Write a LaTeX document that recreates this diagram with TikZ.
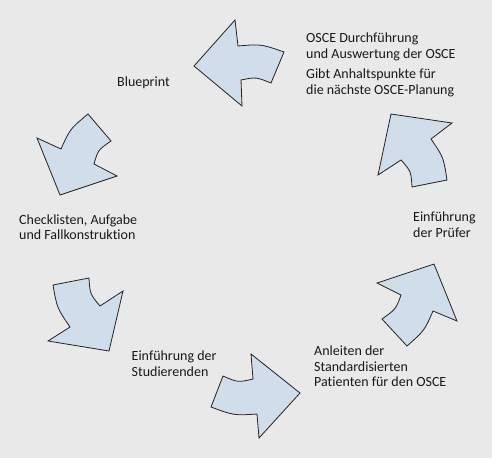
\documentclass[tikz,border=0pt]{standalone}
\usepackage{fontspec}
\setmainfont{Carlito}[Ligatures=NoCommon]
\definecolor{bgGray}{RGB}{233,233,233}
\definecolor{arrowBlue}{RGB}{207,222,234}
\definecolor{edgeGray}{RGB}{35,35,35}

\begin{document}
\begin{tikzpicture}[x=1pt, y=-1pt,
    cyclearrow/.style={
      fill=arrowBlue,
      draw=edgeGray,
      line width=0.8pt,
      line join=miter,
      %drop shadow,
    },
    steplabel/.style={
      anchor=base west,
      align=left,
      inner sep=0pt,
      text=black!90,
      font=\fontsize{14}{15.5}\selectfont,
    }
  ]
  \fill[bgGray] (0,0) rectangle (492,458);

  % the six arrows, counterclockwise from the top
  \draw[cyclearrow] (194,66) -- (235,20) -- (238,46)
    .. controls (261,44) .. (284,52) -- (271,83)
    .. controls (256,77) .. (241,80) -- (242,106) -- cycle;
  \draw[cyclearrow] (60,195) -- (37,138) -- (61,149)
    .. controls (70,129) .. (88,114) -- (111,141)
    .. controls (98,150) .. (94,164) -- (117,176) -- cycle;
  \draw[cyclearrow] (109,351) -- (48,341) -- (70,327)
    .. controls (57,308) .. (53,285) -- (89,278)
    .. controls (90,294) .. (100,306) -- (123,291) -- cycle;
  \draw[cyclearrow] (300,393) -- (259,438) -- (257,414)
    .. controls (234,415.5) .. (211,407) -- (223,376)
    .. controls (238,382.5) .. (253,379) -- (251,354) -- cycle;
  \draw[cyclearrow] (434,264) -- (457,321) -- (433,311)
    .. controls (424.5,330.5) .. (407,346) -- (382,319)
    .. controls (396,309) .. (401,295) -- (377,283) -- cycle;
  \draw[cyclearrow] (391,114) -- (452,123) -- (431,139)
    .. controls (443.5,157.3) .. (447,180) -- (412,187)
    .. controls (411,171.3) .. (401,160) -- (378,175) -- cycle;

  % labels (base = baseline of the last line)
  \node[steplabel] (blueprint) at (117,86) {Blueprint};
  \node[steplabel] (durchfuehrung) at (306,58) {OSCE Durchführung\\und Auswertung der OSCE};
  \node[steplabel] (planung) at (306,94) {Gibt Anhaltspunkte für\\die nächste OSCE-Planung};
  \node[steplabel] (checklisten) at (19,239.5) {Checklisten, Aufgabe\\und Fallkonstruktion};
  \node[steplabel] (studierende) at (131.5,376) {Einführung der\\Studierenden};
  \node[steplabel] (patienten) at (314,386.7) {Anleiten der\\Standardisierten\\Patienten für den OSCE};
  \node[steplabel] (pruefer) at (413,237.2) {Einführung\\der Prüfer};
\end{tikzpicture}
\end{document}
